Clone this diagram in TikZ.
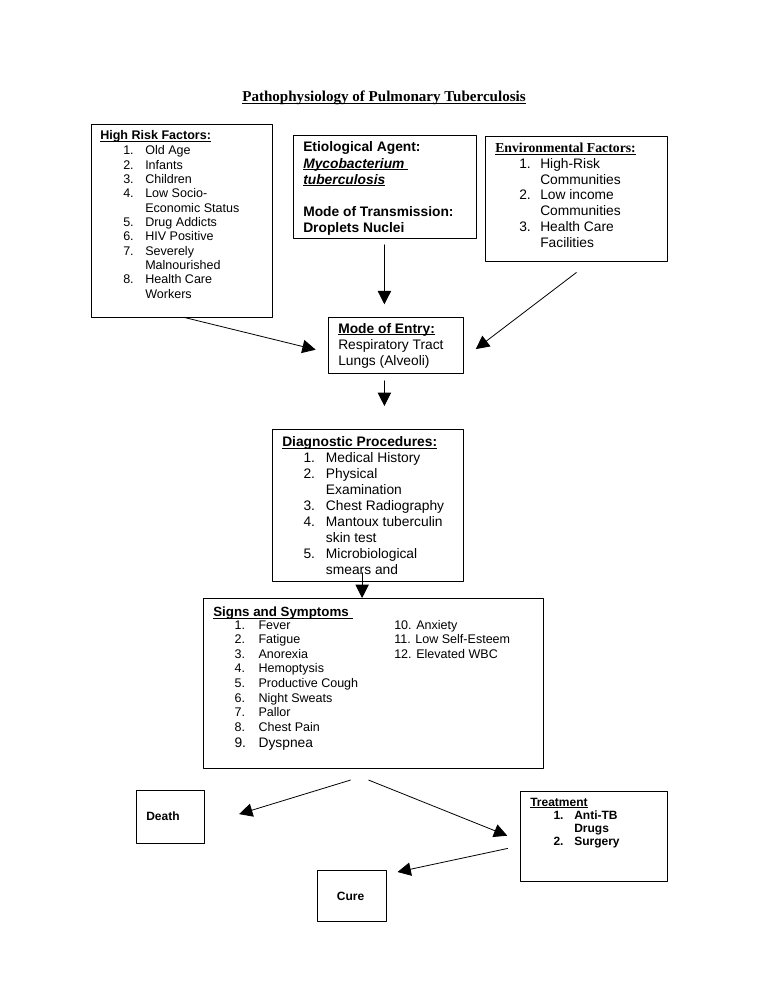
\documentclass[tikz,border=0pt]{standalone}
\usepackage{fontspec}
\setmainfont{Liberation Sans}
\newfontfamily\titlefont{Liberation Serif}
\usetikzlibrary{arrows.meta}
\newlength\px
\setlength\px{0.75pt}
\newsavebox\ulbox
\newcommand{\ulin}[1]{\sbox\ulbox{#1}\rlap{\rule[-1.3pt]{\wd\ulbox}{0.6pt}}\usebox\ulbox}
\tikzset{
  box/.style={draw,line width=0.6pt,anchor=north west,inner sep=0pt},
  txt/.style={anchor=base west,inner sep=0pt},
  link/.style={->,line width=0.6pt},
}

\begin{document}
\begin{tikzpicture}[line cap=round,line join=round,>={Triangle[length=10pt,width=10pt]},x=0.75pt,y=-0.75pt]
\useasboundingbox (0,0) rectangle (768,994);
\node[anchor=base,inner sep=0pt] (title) at (384,102) {\titlefont\fontsize{11.3}{13}\selectfont
  \sbox\ulbox{\textbf{Pathophysiology of Pulmonary Tuberculosis}}\rlap{\rule[-1.8pt]{\wd\ulbox}{0.7pt}}\usebox\ulbox};
%
% boxes
\node[box,minimum width=135.75pt,minimum height=144.75pt] (risk) at (91,124) {};
\node[box,minimum width=137.25pt,minimum height=77.25pt] (etio) at (293,135) {};
\node[box,minimum width=136.5pt,minimum height=93.75pt] (env) at (485,136) {};
\node[box,minimum width=101.25pt,minimum height=42pt] (entry) at (328,317) {};
\node[box,minimum width=143.25pt,minimum height=114pt] (diag) at (272,429) {};
\node[box,minimum width=255pt,minimum height=127.5pt] (signs) at (203,598) {};
\node[box,minimum width=51pt,minimum height=39.75pt] (death) at (136,790) {};
\node[box,minimum width=110.25pt,minimum height=67.5pt] (treat) at (520,791) {};
\node[box,minimum width=51.75pt,minimum height=38.25pt] (cure) at (317,870) {};
%
% texts
\node[txt,font=\fontsize{9.4}{10.75}\selectfont] (riskt) at (100,140) {%
\begin{tabular}[t]{@{\hspace{23\px}}p{22\px}@{}l@{}}
\multicolumn{2}{@{}l@{}}{\ulin{\textbf{High Risk Factors:}}}\\[0.5pt]
1. & Old Age\\
2. & Infants\\
3. & Children\\
4. & Low Socio-\\
   & Economic Status\\
5. & Drug Addicts\\
6. & HIV Positive\\
7. & Severely\\
   & Malnourished\\
8. & Health Care\\
   & Workers
\end{tabular}};
\node[txt,font=\fontsize{10.35}{12.15}\selectfont\bfseries] (etiot) at (303,152) {%
\begin{tabular}[t]{@{}l@{}}
Etiological Agent:\\
\ulin{\textit{Mycobacterium\ }}\\
\ulin{\textit{tuberculosis}}\\
\\
Mode of Transmission:\\
Droplets Nuclei
\end{tabular}};
\node[txt,font=\fontsize{10.35}{11.9}\selectfont] (envt) at (495,153) {%
\begin{tabular}[t]{@{\hspace{24\px}}p{21\px}@{}l@{}}
\multicolumn{2}{@{}l@{}}{\ulin{\titlefont\fontsize{10.3}{12}\selectfont\bfseries Environmental Factors:}}\\[-0.45pt]
1. & High-Risk\\
   & Communities\\
2. & Low income\\
   & Communities\\
3. & Health Care\\
   & Facilities
\end{tabular}};
\node[txt,font=\fontsize{10.35}{11.9}\selectfont] (entryt) at (338,333.3) {%
\begin{tabular}[t]{@{}l@{}}
\ulin{\textbf{Mode of Entry:}}\\
Respiratory Tract\\
Lungs (Alveoli)
\end{tabular}};
\node[txt,font=\fontsize{10.35}{11.96}\selectfont] (diagt) at (282,446.7) {%
\begin{tabular}[t]{@{\hspace{21.3\px}}p{22.4\px}@{}l@{}}
\multicolumn{2}{@{}l@{}}{\ulin{\textbf{Diagnostic Procedures:}}}\\
1. & Medical History\\
2. & Physical\\
   & Examination\\
3. & Chest Radiography\\
4. & Mantoux tuberculin\\
   & skin test\\
5. & Microbiological\\
   & smears and
\end{tabular}};
\node[txt,font=\fontsize{9.4}{10.9}\selectfont] (signst) at (213,616.7) {%
\begin{tabular}[t]{@{\hspace{21.3\px}}p{24\px}@{}p{135.7\px}@{}l@{}}
\multicolumn{3}{@{}l@{}}{\ulin{\fontsize{10}{12}\selectfont\textbf{Signs and Symptoms\ }}}\\[-1.4pt]
1. & Fever & 10. Anxiety\\
2. & Fatigue & 11. Low Self-Esteem\\
3. & Anorexia & 12. Elevated WBC\\
4. & Hemoptysis & \\
5. & Productive Cough & \\
6. & Night Sweats & \\
7. & Pallor & \\
8. & Chest Pain & \\[1.4pt]
\fontsize{10.35}{12}\selectfont 9. & \fontsize{10.35}{12}\selectfont Dyspnea &
\end{tabular}};
\node[txt,font=\fontsize{9}{10.8}\selectfont\bfseries] (deatht) at (146,820.7) {Death};
\node[txt,font=\fontsize{9}{10.8}\selectfont\bfseries] (curet) at (336.7,900.7) {Cure};
\node[txt,font=\fontsize{9}{9.75}\selectfont\bfseries] (treatt) at (530,806) {%
\begin{tabular}[t]{@{\hspace{23.3\px}}p{20.7\px}@{}l@{}}
\multicolumn{2}{@{}l@{}}{\ulin{Treatment}}\\
1. & Anti-TB\\
   & Drugs\\
2. & Surgery
\end{tabular}};
%
% arrows
\draw[link] ([shift={(-0.5,6)}]etio.south) -- ([shift={(-11.5,-12.7)}]entry.north);
\draw[link] ([shift={(1.8,-0.5)}]risk.south) -- ([shift={(-12.3,4.3)}]entry.west);
\draw[link] ([shift={(0,10.7)}]env.south) -- ([shift={(12,3.7)}]entry.east);
\draw[link] ([shift={(-11.5,7)}]entry.south) -- ([shift={(16.5,-23)}]diag.north);
\draw[link] ([shift={(-5.8,-9)}]diag.south) -- ([shift={(-11.3,0)}]signs.north);
\draw[link] ([shift={(-23,11.3)}]signs.south) -- ([shift={(34.3,-2.8)}]death.east);
\draw[link] ([shift={(-4.7,11.3)}]signs.south) -- ([shift={(-12.7,-0.7)}]treat.west);
\draw[link] ([shift={(-12.3,12)}]treat.west) -- ([shift={(10.7,2)}]cure.north east);
\end{tikzpicture}
\end{document}
